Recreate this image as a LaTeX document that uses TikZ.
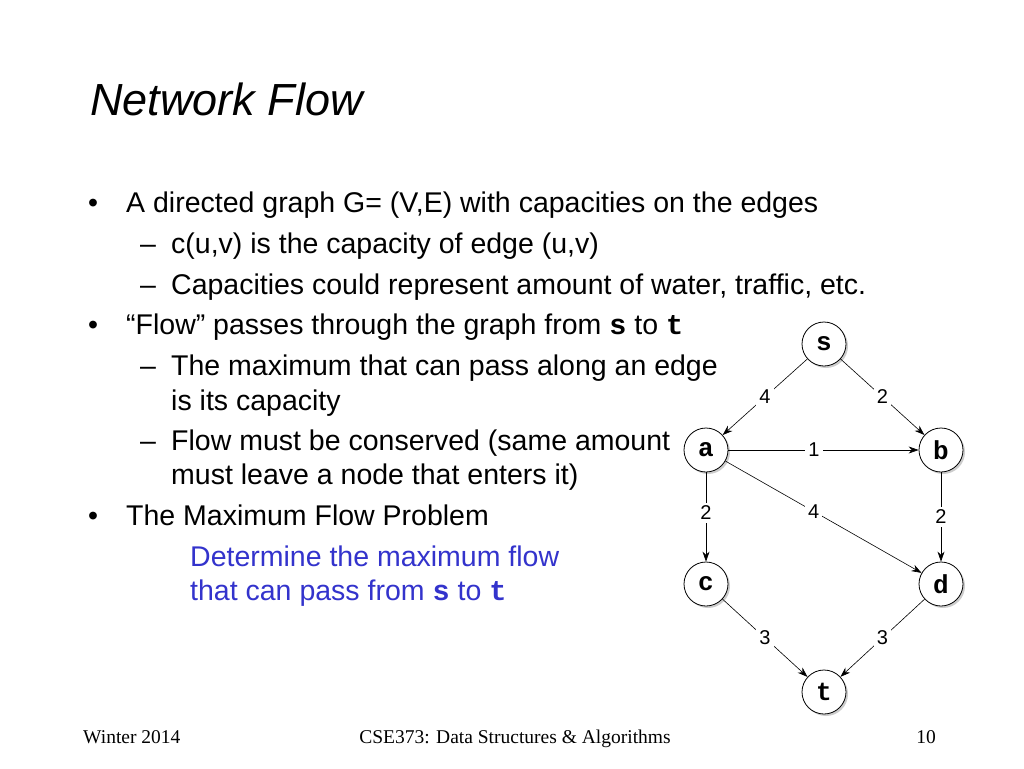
\documentclass[tikz,border=0pt]{standalone}
\usepackage{fontspec}
\setmainfont{Liberation Sans}
\newfontfamily\serifft{Liberation Serif}
\setmonofont{Liberation Mono}
\usetikzlibrary{arrows.meta,shadows}
\definecolor{blu}{RGB}{51,51,204}
\begin{document}
\begin{tikzpicture}[x=1pt,y=-1pt,
  txt/.style={anchor=base west,inner sep=0pt,font=\fontsize{28.5}{32}\selectfont},
  vert/.style={circle,draw,thick,minimum size=44pt,inner sep=0pt,fill=white,
    drop shadow={shadow xshift=2pt,shadow yshift=-2pt,opacity=0.4},
    font=\fontsize{26}{28}\selectfont\ttfamily\bfseries},
  edge/.style={-{Stealth[length=10pt,width=7pt]},semithick},
  lab/.style={fill=white,inner sep=3pt,font=\fontsize{20}{22}\selectfont}]
\useasboundingbox (0,0) rectangle (1024,768);
\node[anchor=base west,inner sep=0pt,font=\fontsize{45}{50}\selectfont\itshape] (title) at (90,115) {Network Flow};
\node[txt] (b1) at (88,212) {•}; \node[txt] (t1) at (126,212) {A directed graph G= (V,E) with capacities on the edges};
\node[txt] (d1) at (140,253) {–}; \node[txt] (t2) at (171,253) {c(u,v) is the capacity of edge (u,v)};
\node[txt] (d2) at (140,294) {–}; \node[txt] (t3) at (171,294) {Capacities could represent amount of water, traffic, etc.};
\node[txt] (b2) at (88,334) {•}; \node[txt] (t4) at (126,334) {“Flow” passes through the graph from \texttt{\bfseries s} to \texttt{\bfseries t}};
\node[txt] (d3) at (140,375) {–}; \node[txt] (t5) at (171,375) {The maximum that can pass along an edge};
\node[txt] (t6) at (171,410) {is its capacity};
\node[txt] (d4) at (140,450) {–}; \node[txt] (t7) at (171,450) {Flow must be conserved (same amount};
\node[txt] (t8) at (171,484) {must leave a node that enters it)};
\node[txt] (b3) at (88,525) {•}; \node[txt] (t9) at (126,525) {The Maximum Flow Problem};
\node[txt,text=blu] (t10) at (190,566) {Determine the maximum flow};
\node[txt,text=blu] (t11) at (190,600) {that can pass from \texttt{\bfseries s} to \texttt{\bfseries t}};
\node[anchor=base west,inner sep=0pt,font=\fontsize{19.5}{22}\selectfont\serifft] (f1) at (83,743) {Winter 2014};
\node[anchor=base,inner sep=0pt,font=\fontsize{19.5}{22}\selectfont\serifft] (f2) at (515,743) {CSE373: Data Structures \& Algorithms};
\node[anchor=base east,inner sep=0pt,font=\fontsize{19.5}{22}\selectfont\serifft] (f3) at (936,743) {10};
\node[vert] (s) at (824,344) {s};
\node[vert] (a) at (706,450) {a};
\node[vert] (b) at (941,450) {b};
\node[vert] (c) at (706,584) {c};
\node[vert] (d) at (941,584) {d};
\node[vert] (t) at (824,692) {t};
\draw[edge] (s) -- node[lab,pos=0.5]{4} (a);
\draw[edge] (s) -- node[lab,pos=0.5]{2} (b);
\draw[edge] (a) -- node[lab,pos=0.45]{1} (b);
\draw[edge] (a) -- node[lab,pos=0.45]{2} (c);
\draw[edge] (a) -- node[lab,pos=0.45]{4} (d);
\draw[edge] (b) -- node[lab,pos=0.5]{2} (d);
\draw[edge] (c) -- node[lab,pos=0.5]{3} (t);
\draw[edge] (d) -- node[lab,pos=0.5]{3} (t);
\end{tikzpicture}
\end{document}
